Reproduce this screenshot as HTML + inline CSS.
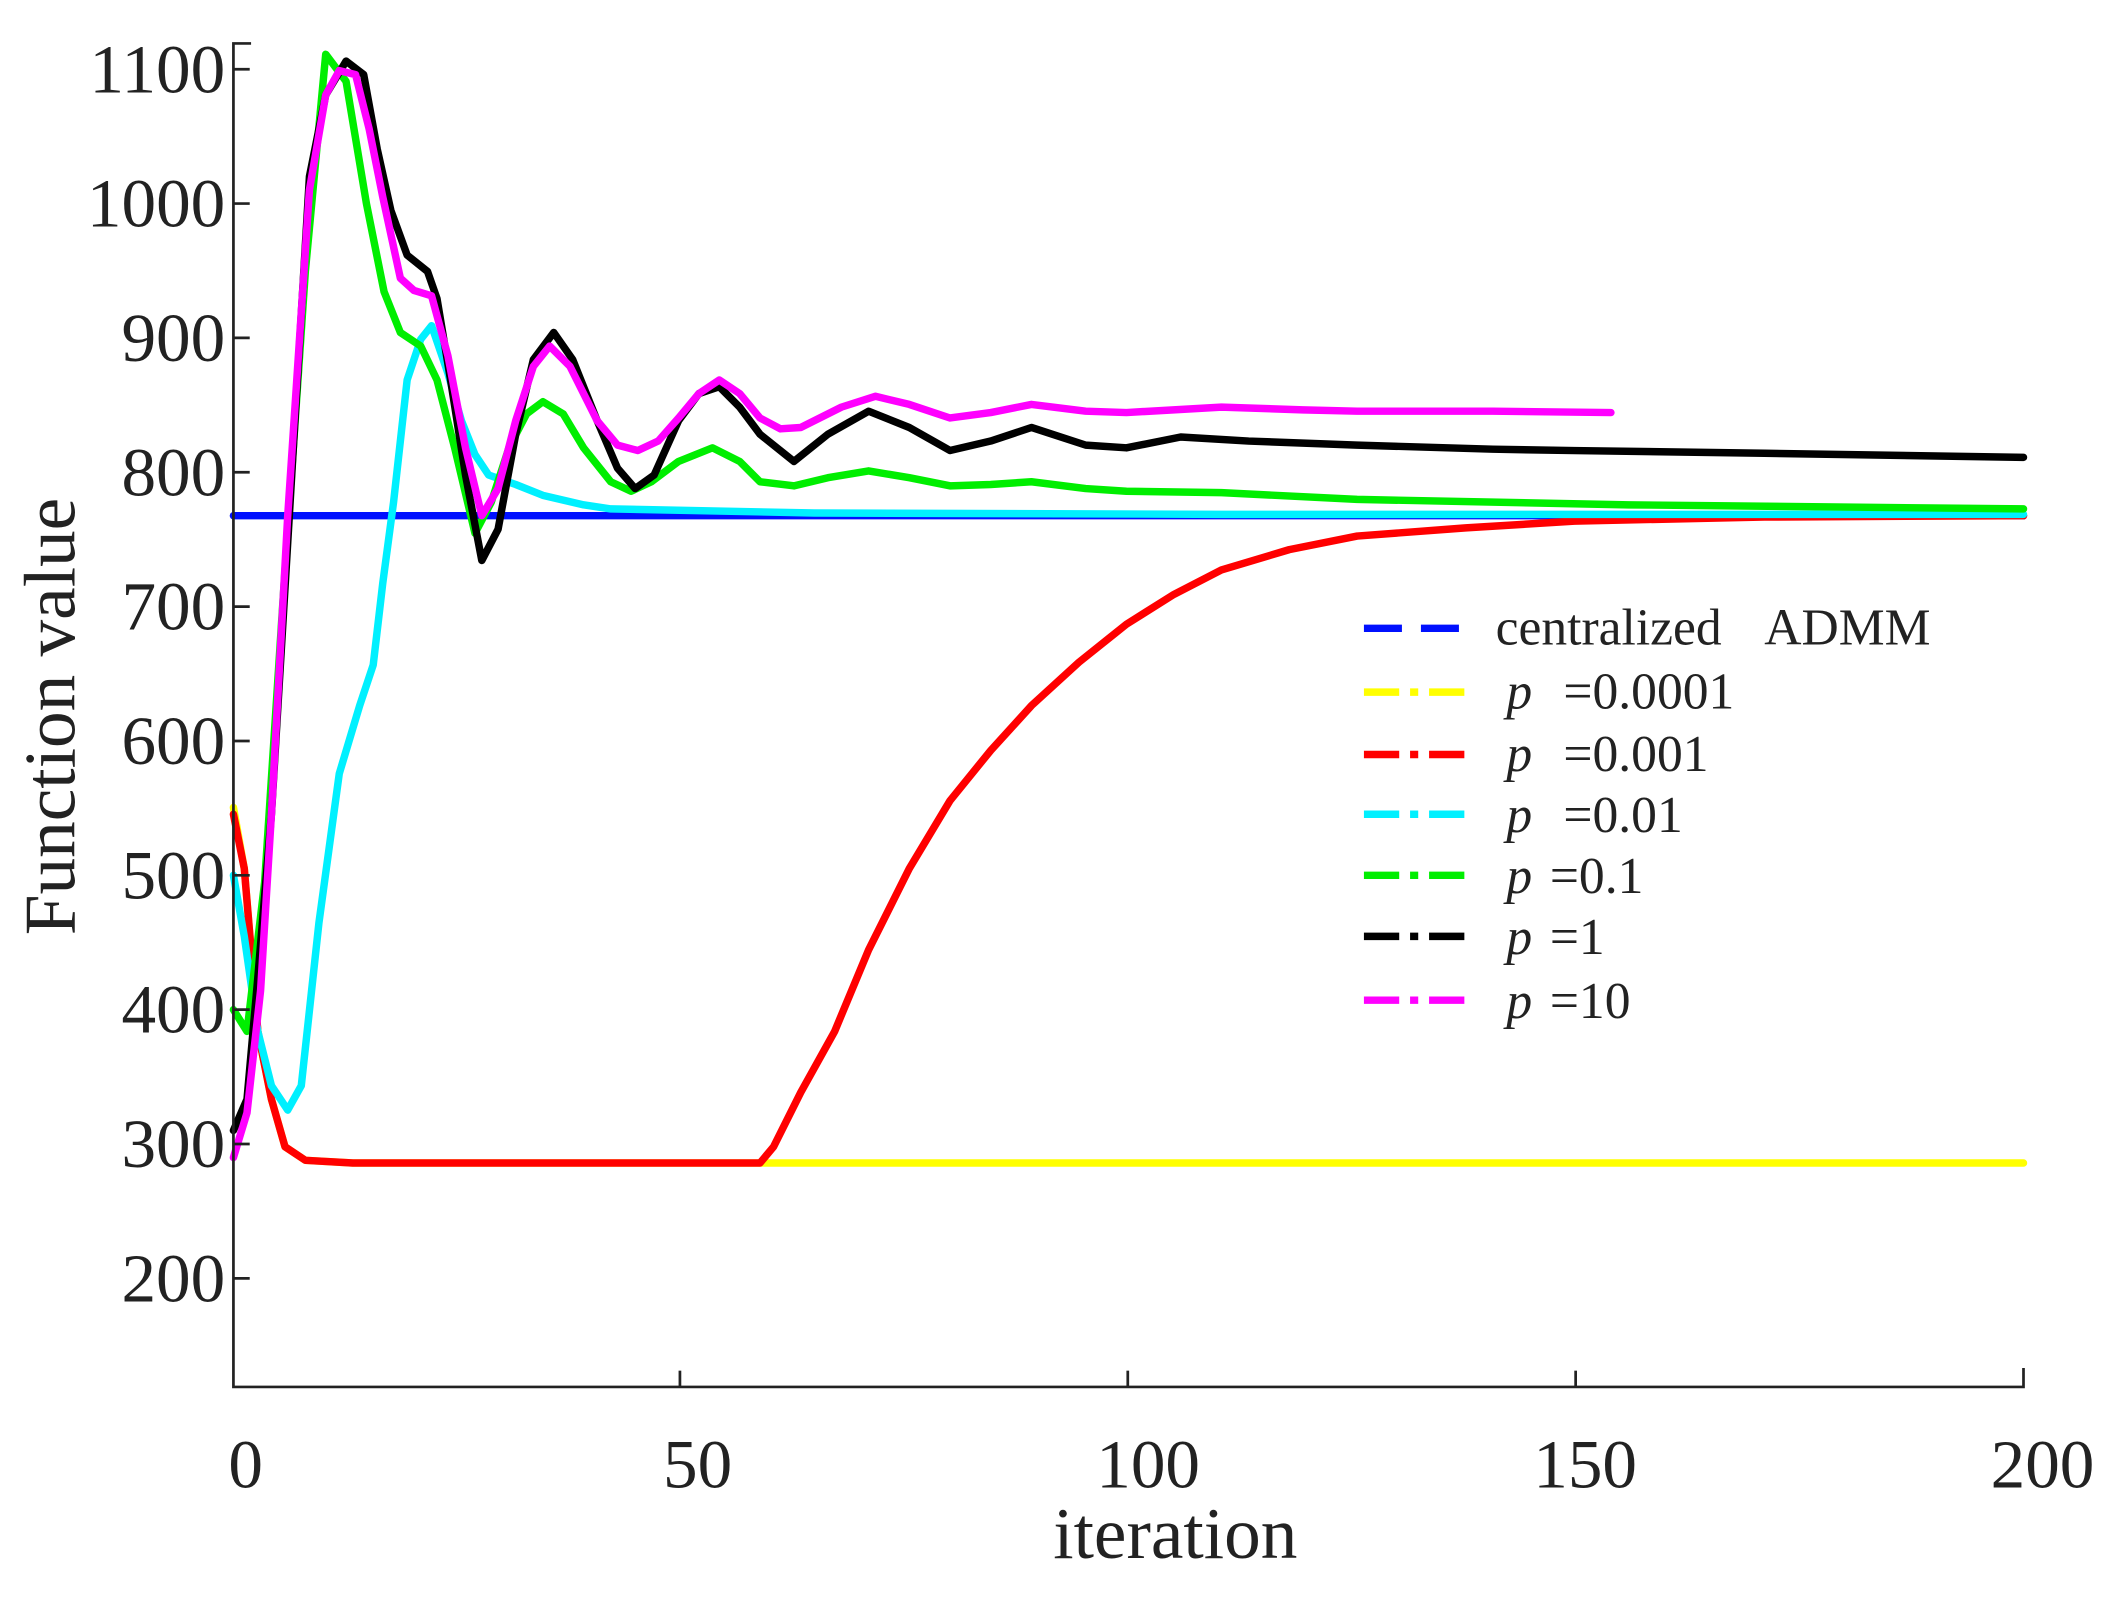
<!DOCTYPE html>
<html><head><style>html,body{margin:0;padding:0;background:#fff}svg{display:block}</style></head>
<body>
<svg width="2128" height="1600" viewBox="0 0 1568 1179" preserveAspectRatio="none" xmlns="http://www.w3.org/2000/svg" font-family="Liberation Serif, serif" fill="#222">
<rect width="1568" height="1179" fill="#fff"/>
<g fill="none" stroke-width="5.5" stroke-linejoin="round" stroke-linecap="round">
<polyline stroke="#0010ff" points="172,380 1491,380"/>
<polyline stroke="#ffff00" points="172,595 180,640 190,760 200,810 210,845 225,855 260,857 1491,857"/>
<polyline stroke="#ff0000" points="172,600 180,640 190,760 200,810 210,845 225,855 260,857 560,857 570,845 590,805 615,760 640,700 670,640 700,590 730,553 760,520 795,488 830,460 865,438 900,420 950,405 1000,395 1080,389 1160,384 1300,381 1491,380"/>
<polyline stroke="#00f0ff" points="172,645 180,690 190,760 200,800 212,818 222,800 235,680 250,570 265,520 275,490 282,430 290,370 300,280 310,250 318,240 330,275 340,310 350,335 360,350 380,357 400,365 430,372 450,375 600,378 900,379 1491,379"/>
<polyline stroke="#00ee00" points="172,744 182,760 195,650 210,420 225,200 240,40 255,60 270,150 283,215 295,245 310,255 322,280 335,330 350,393 362,370 375,330 388,305 400,296 415,305 430,330 450,355 465,362 480,355 500,340 525,330 545,340 560,355 585,358 610,352 640,347 670,352 700,358 730,357 760,355 800,360 830,362 900,363 1000,368 1200,372 1491,375"/>
<polyline stroke="#000000" points="172,833 182,810 190,720 200,600 212,400 228,130 240,70 255,45 268,55 278,110 288,155 300,188 315,200 322,220 332,280 343,350 355,413 367,390 380,320 393,265 408,245 422,265 440,310 455,345 468,360 482,350 500,310 515,290 530,285 545,300 560,320 585,340 610,320 640,303 670,315 700,332 730,325 760,315 800,328 830,330 870,322 920,325 1000,328 1100,331 1160,332 1300,334 1491,337"/>
<polyline stroke="#ff00ff" points="172,853 182,820 192,730 200,600 212,380 228,140 240,70 250,52 262,55 272,95 282,145 295,205 305,214 318,218 330,262 343,330 355,380 367,360 380,310 393,270 405,255 420,270 440,310 455,328 470,332 485,325 500,308 515,290 530,280 545,290 560,308 575,316 590,315 620,300 645,292 670,298 700,308 730,304 760,298 800,303 830,304 900,300 960,302 1000,303 1100,303 1187,304"/>
</g>
<g stroke="#222" stroke-width="2" fill="none">
<polyline points="185,32 172,32 172,1022 1491,1022 1491,1008"/>
<line x1="172" y1="942" x2="184" y2="942"/><line x1="172" y1="843" x2="184" y2="843"/><line x1="172" y1="744" x2="184" y2="744"/><line x1="172" y1="645" x2="184" y2="645"/><line x1="172" y1="546" x2="184" y2="546"/><line x1="172" y1="447" x2="184" y2="447"/><line x1="172" y1="348" x2="184" y2="348"/><line x1="172" y1="249" x2="184" y2="249"/><line x1="172" y1="150" x2="184" y2="150"/><line x1="172" y1="51" x2="184" y2="51"/>
<line x1="501" y1="1022" x2="501" y2="1010"/><line x1="831" y1="1022" x2="831" y2="1010"/><line x1="1161" y1="1022" x2="1161" y2="1010"/>
</g>
<g font-size="51" text-anchor="end">
<text x="166" y="959">200</text><text x="166" y="860">300</text><text x="166" y="761">400</text><text x="166" y="662">500</text><text x="166" y="563">600</text><text x="166" y="464">700</text><text x="166" y="365">800</text><text x="166" y="266">900</text><text x="166" y="167">1000</text><text x="166" y="68">1100</text>
</g>
<g font-size="51" text-anchor="middle">
<text x="181" y="1096">0</text><text x="514" y="1096">50</text><text x="846" y="1096">100</text><text x="1168" y="1096">150</text><text x="1505" y="1096">200</text>
<text x="866" y="1148" font-size="54">iteration</text>
<text transform="translate(55,528) rotate(-90)" font-size="54">Function value</text>
</g>
<g stroke-width="5.5" fill="none">
<line x1="1005" y1="463" x2="1085" y2="463" stroke="#0010ff" stroke-dasharray="28,14"/>
<line x1="1005" y1="510" x2="1085" y2="510" stroke="#ffff00" stroke-dasharray="26,8,6,8"/>
<line x1="1005" y1="556" x2="1085" y2="556" stroke="#ff0000" stroke-dasharray="26,8,6,8"/>
<line x1="1005" y1="600" x2="1085" y2="600" stroke="#00f0ff" stroke-dasharray="26,8,6,8"/>
<line x1="1005" y1="645" x2="1085" y2="645" stroke="#00ee00" stroke-dasharray="26,8,6,8"/>
<line x1="1005" y1="690" x2="1085" y2="690" stroke="#000" stroke-dasharray="26,8,6,8"/>
<line x1="1005" y1="737" x2="1085" y2="737" stroke="#ff00ff" stroke-dasharray="26,8,6,8"/>
</g>
<g font-size="38">
<text x="1102" y="475">centralized<tspan x="1300">ADMM</tspan></text>
<text x="1110" y="522"><tspan font-style="italic">p</tspan><tspan x="1152">=0.0001</tspan></text>
<text x="1110" y="568"><tspan font-style="italic">p</tspan><tspan x="1152">=0.001</tspan></text>
<text x="1110" y="613"><tspan font-style="italic">p</tspan><tspan x="1152">=0.01</tspan></text>
<text x="1110" y="658"><tspan font-style="italic">p</tspan><tspan x="1142">=0.1</tspan></text>
<text x="1110" y="703"><tspan font-style="italic">p</tspan><tspan x="1142">=1</tspan></text>
<text x="1110" y="750"><tspan font-style="italic">p</tspan><tspan x="1142">=10</tspan></text>
</g>
</svg>
</body></html>
